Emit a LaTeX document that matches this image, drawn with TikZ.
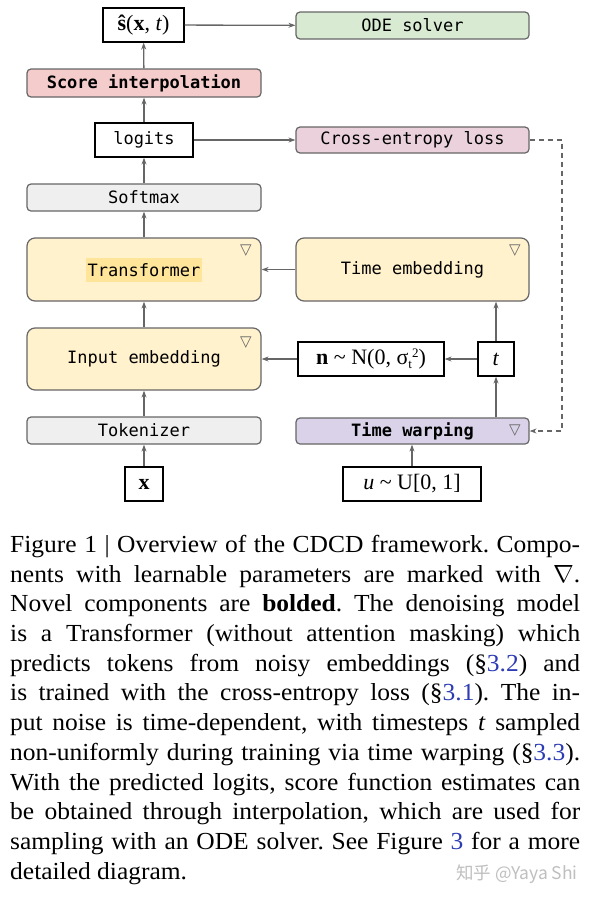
\documentclass[tikz,border=0pt]{standalone}
\usepackage{fontspec}
\setmainfont{Liberation Serif}
\newfontfamily\capfont[FakeStretch=1.04]{Liberation Serif}
\setmonofont{DejaVu Sans Mono}
\newfontfamily\symfont{DejaVu Sans}
\newfontfamily\cjkfont{Noto Sans CJK SC}
\usetikzlibrary{arrows.meta}
\definecolor{edge}{HTML}{666666}
\definecolor{odegreen}{HTML}{D9EAD3}
\definecolor{scorepink}{HTML}{F4CCCC}
\definecolor{cepink}{HTML}{EAD1DC}
\definecolor{lightgray}{HTML}{EFEFEF}
\definecolor{yellowbox}{HTML}{FFF2CC}
\definecolor{hilite}{HTML}{FFE599}
\definecolor{lavender}{HTML}{D9D2E9}
\definecolor{linkblue}{HTML}{2D3CB4}
\tikzset{
  mono/.style={font=\fontsize{17}{20}\selectfont\ttfamily},
  cbox/.style={draw=edge, line width=1.2pt, rounded corners=4pt, inner sep=0pt, mono, text=black},
  tallbox/.style={cbox, rounded corners=8pt},
  mbox/.style={draw=black, line width=1.2pt, fill=white, inner sep=0pt, font=\fontsize{22}{24}\selectfont},
  arr/.style={draw=edge, line width=1.3pt, -{Stealth[length=7pt,width=5pt]}},
  nab/.style={font=\fontsize{15}{15}\selectfont\symfont, text=edge, inner sep=0pt},
}
\begin{document}
\begin{tikzpicture}[x=1pt,y=-1pt]
\useasboundingbox (0,0) rectangle (595,897);
\fill[white] (0,0) rectangle (595,897);

% nodes
\node[mbox, minimum width=81pt, minimum height=34pt] (shat) at (143.5,25) {\textbf{ŝ}(\textbf{x}, \textit{t})};
\node[cbox, fill=odegreen, minimum width=233pt, minimum height=27pt] (ode) at (412.5,25.5) {ODE solver};
\node[cbox, fill=scorepink, minimum width=234pt, minimum height=28pt] (score) at (144,83) {\bfseries Score interpolation};
\node[mbox, minimum width=98pt, minimum height=34pt, mono] (logits) at (144,140) {logits};
\node[cbox, fill=cepink, minimum width=233pt, minimum height=26pt] (ce) at (412.5,140) {Cross-entropy loss};
\node[cbox, fill=lightgray, minimum width=234pt, minimum height=27pt] (softmax) at (144,197.5) {Softmax};
\node[tallbox, fill=yellowbox, minimum width=234pt, minimum height=63pt] (transformer) at (144,269.5) {};
\node[fill=hilite, inner xsep=2pt, inner ysep=0pt, minimum height=24pt, mono] (transtext) at (144,270) {Transformer};
\node[tallbox, fill=yellowbox, minimum width=233pt, minimum height=63pt] (timeemb) at (412.5,269.5) {Time embedding};
\node[tallbox, fill=yellowbox, minimum width=234pt, minimum height=62pt] (inputemb) at (144,359) {Input embedding};
\node[mbox, minimum width=146pt, minimum height=34pt] (noise) at (371,359) {\textbf{n} \textasciitilde{} N(0, σ\raisebox{-0.35ex}{\fontsize{13}{13}\selectfont t}\raisebox{0.75ex}{\fontsize{13}{13}\selectfont 2})};
\node[mbox, minimum width=36pt, minimum height=34pt] (t) at (496,359) {\textit{t}};
\node[cbox, fill=lightgray, minimum width=234pt, minimum height=27pt] (tokenizer) at (144,430.5) {Tokenizer};
\node[cbox, fill=lavender, minimum width=233pt, minimum height=26pt] (timewarp) at (412.5,431) {\bfseries Time warping};
\node[mbox, minimum width=38pt, minimum height=34pt] (x) at (144,484) {\textbf{x}};
\node[mbox, minimum width=138pt, minimum height=34pt] (u) at (412,484) {\textit{u} \textasciitilde{} U[0, 1]};

% nabla markers
\node[nab] (n1) at (246,251) {▽};
\node[nab] (n2) at (515,251) {▽};
\node[nab] (n3) at (246,343) {▽};
\node[nab] (n4) at (515,431) {▽};

% connectors
\draw[arr] (x) -- (tokenizer);
\draw[arr] (tokenizer) -- (inputemb);
\draw[arr] (inputemb) -- (transformer);
\draw[arr] (transformer) -- (softmax);
\draw[arr] (softmax) -- (logits);
\draw[arr] (logits) -- (score);
\draw[arr] (score) -- (shat);
\draw[arr] (shat) -- (ode);
\draw[arr] (logits) -- (ce);
\draw[arr] (timeemb) -- (transformer);
\draw[arr] (noise) -- (inputemb);
\draw[arr] (t) -- (noise);
\draw[arr] (t) -- (t |- timeemb.south);
\draw[arr] (timewarp.north -| t) -- (t);
\draw[arr] (u) -- (u |- timewarp.south);
\coordinate (dtop) at (562,140);
\coordinate (dbot) at (562,431);
\draw[arr, dashed, dash pattern=on 5pt off 4pt] (ce.east) -- (dtop) -- (dbot) -- (timewarp.east);

% caption
\node[anchor=north west, inner sep=0pt, text width=570pt, align=justify,
      font=\fontsize{24.5}{29.7}\capfont] (caption) at (10,535) {\frenchspacing
Figure 1 | Overview of the CDCD framework. Compo-\linebreak
nents with learnable parameters are marked with $\nabla$.\linebreak
Novel components are \textbf{bolded}. The denoising model\linebreak
is a Transformer (without attention masking) which\linebreak
predicts tokens from noisy embeddings (§\textcolor{linkblue}{3.2}) and\linebreak
is trained with the cross-entropy loss (§\textcolor{linkblue}{3.1}). The in-\linebreak
put noise is time-dependent, with timesteps \textit{t} sampled\linebreak
non-uniformly during training via time warping (§\textcolor{linkblue}{3.3}).\linebreak
With the predicted logits, score function estimates can\linebreak
be obtained through interpolation, which are used for\linebreak
sampling with an ODE solver. See Figure \textcolor{linkblue}{3} for a more\linebreak
detailed diagram.};
\node[anchor=base east, inner sep=0pt, text=black!25, font=\fontsize{17.5}{17.5}\cjkfont] (wm) at (578,879) {知乎 @Yaya Shi};
\end{tikzpicture}
\end{document}
